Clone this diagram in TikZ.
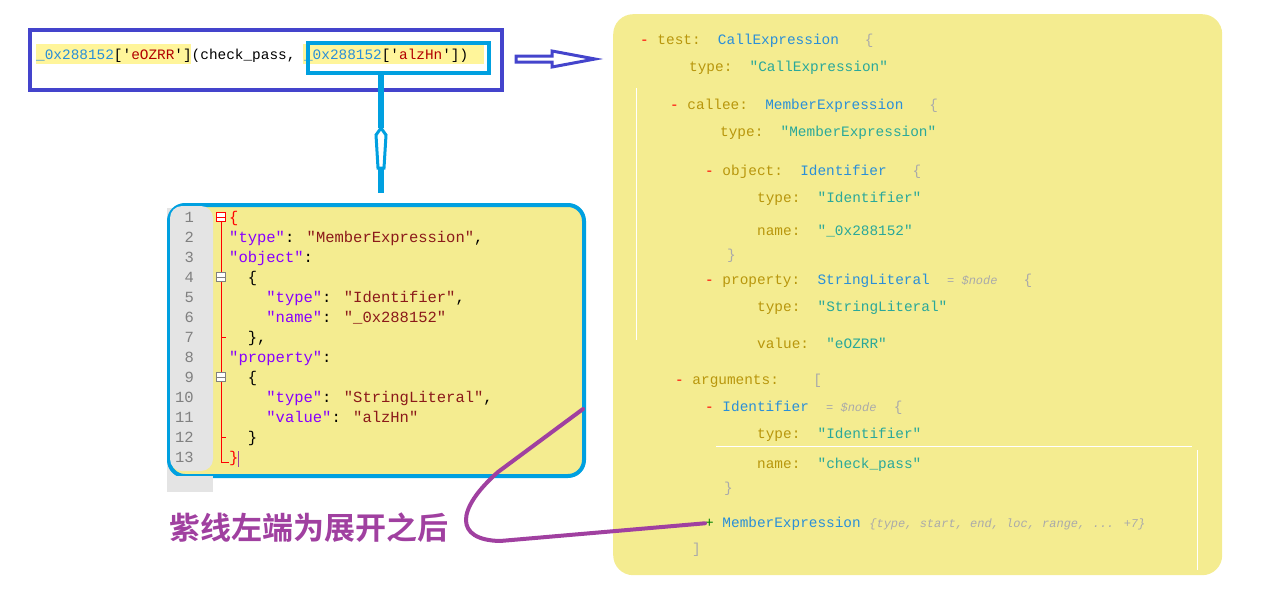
\documentclass[tikz,border=0pt]{standalone}
\usepackage{fontspec}
\newfontfamily\mono{Liberation Mono}
\newfontfamily\cjk{Noto Sans CJK SC}[BoldFont={Noto Sans CJK SC Bold}]
\definecolor{dblue}{HTML}{4444CC}
\definecolor{cyanb}{HTML}{00A0E0}
\definecolor{pyel}{HTML}{F4EC90}
\definecolor{hyel}{HTML}{FFF59A}
\definecolor{keyc}{HTML}{B8960C}
\definecolor{valc}{HTML}{2A8FD8}
\definecolor{strc}{HTML}{2AA89A}
\definecolor{brc}{HTML}{AAAAAA}
\definecolor{purp}{HTML}{A040A0}
\definecolor{jkey}{HTML}{8800FF}
\definecolor{jstr}{HTML}{8B1A1A}
\definecolor{gut}{HTML}{E4E4E4}
\tikzset{
 tx/.style={anchor=base west,inner sep=0pt,font=\mono\fontsize{14.4}{16}\selectfont},
 jx/.style={anchor=base west,inner sep=0pt,font=\mono\fontsize{15.5}{17}\selectfont},
 ln/.style={anchor=base east,inner sep=0pt,font=\mono\fontsize{15.5}{17}\selectfont,text=gray},
 fold/.style={draw=#1,fill=white,minimum size=9pt,inner sep=0pt},
}
\newcommand{\K}[1]{\textcolor{keyc}{#1}}
\newcommand{\V}[1]{\textcolor{valc}{#1}}
\newcommand{\Sv}[1]{\textcolor{strc}{#1}}
\newcommand{\B}[1]{\textcolor{brc}{#1}}
\newcommand{\D}{\textcolor{red}{-}}
\newcommand{\N}[1]{\textcolor{brc}{\itshape\fontsize{12}{14}\selectfont #1}}
\newcommand{\JK}[1]{\textcolor{jkey}{"#1"}}
\newcommand{\JS}[1]{\textcolor{jstr}{"#1"}}
\begin{document}
\begin{tikzpicture}[x=1pt,y=-1pt]
\useasboundingbox (0,0) rectangle (1276,608);
% ---------- right panel
\node[fill=pyel,rounded corners=20pt,minimum width=609pt,minimum height=561pt,anchor=north west,inner sep=0pt] (panel) at (613,14) {};
\draw[white,line width=1pt] (636,88) -- (636,340);
\draw[white,line width=1pt] (716,446) -- (1192,446);
\draw[white,line width=1pt] (1197,450) -- (1197,570);
\node[tx] (t1) at (640,44) {\D\ \K{test:}\ \ \V{CallExpression}\ \ \ \B{\{}};
\node[tx] (t2) at (689,71) {\K{type:}\ \ \Sv{"CallExpression"}};
\node[tx] (t3) at (670,109) {\D\ \K{callee:}\ \ \V{MemberExpression}\ \ \ \B{\{}};
\node[tx] (t4) at (720,136) {\K{type:}\ \ \Sv{"MemberExpression"}};
\node[tx] (t5) at (705,175) {\D\ \K{object:}\ \ \V{Identifier}\ \ \ \B{\{}};
\node[tx] (t6) at (757,202) {\K{type:}\ \ \Sv{"Identifier"}};
\node[tx] (t7) at (757,235) {\K{name:}\ \ \Sv{"\_0x288152"}};
\node[tx] (t8) at (727,259) {\B{\}}};
\node[tx] (t9) at (705,284) {\D\ \K{property:}\ \ \V{StringLiteral}\ \ \N{= \$node}\ \ \ \B{\{}};
\node[tx] (t10) at (757,311) {\K{type:}\ \ \Sv{"StringLiteral"}};
\node[tx] (t11) at (757,348) {\K{value:}\ \ \Sv{"eOZRR"}};
\node[tx] (t12) at (675,384) {\D\ \K{arguments:}\ \ \ \ \B{[}};
\node[tx] (t13) at (705,411) {\D\ \V{Identifier}\ \ \N{= \$node}\ \ \B{\{}};
\node[tx] (t14) at (757,438) {\K{type:}\ \ \Sv{"Identifier"}};
\node[tx] (t15) at (757,468) {\K{name:}\ \ \Sv{"check\_pass"}};
\node[tx] (t16) at (724,492) {\B{\}}};
\node[tx] (t17) at (705,527) {\textcolor{green!50!black}{+}\ \V{MemberExpression}\ \N{\{type, start, end, loc, range, ... +7\}}};
\node[tx] (t18) at (692,553) {\B{]}};
% ---------- top code line
\fill[hyel] (36,44) rectangle (191,64);
\fill[hyel] (303,44) rectangle (484,64);
\node[tx] (code) at (36,59) {\V{\_0x288152}['\textcolor{red!70!black}{eOZRR}'](check\_pass, \V{\_0x288152}['\textcolor{red!70!black}{alzHn}'])};
\node[draw=dblue,line width=4pt,minimum width=472pt,minimum height=60pt,anchor=north west,inner sep=0pt] (outer) at (28,28) {};
\node[draw=cyanb,line width=4pt,minimum width=181pt,minimum height=30pt,anchor=north west,inner sep=0pt] (inner) at (306,41) {};
% right hollow arrow
\draw[dblue,line width=3pt,line join=miter] (516,56) -- (552,56) -- (552,51) -- (595,59) -- (552,67) -- (552,62) -- (516,62) -- cycle;
% down connector
\coordinate (dtop) at (381,71);
\coordinate (dbot) at (381,193);
\draw[cyanb,line width=6pt] (inner.south -| dtop) -- (381,128);
\draw[cyanb,line width=6pt] (381,168) -- (dbot);
\draw[cyanb,line width=3pt,fill=white] (378,168) -- (376,135) -- (381,128) -- (386,135) -- (384,168) -- cycle;
% ---------- JSON box
\fill[gut] (167,208) rectangle (213,492);
\node[draw=cyanb,line width=4pt,fill=pyel,rounded corners=16pt,minimum width=415pt,minimum height=271pt,anchor=north west,inner sep=0pt] (json) at (167,203) {};
\fill[gut,rounded corners=12pt] (170,206) -- (213,206) -- (213,471) -- (170,471) -- cycle;
\fill[gut] (170,476) rectangle (213,492);
\foreach \i in {1,...,13}{
  \node[ln] (n\i) at (194,{222+20*(\i-1)}) {\i};
}
\draw[red] (221,217) -- (221,462) -- (229,462);
\foreach \i in {7,12}{\draw[red] (221,{217+20*(\i-1)}) -- (226,{217+20*(\i-1)});}
\node[fold=red] (f1) at (221,217) {};
\node[fold=gray] (f4) at (221,277) {};
\node[fold=gray] (f9) at (221,377) {};
\draw[red] (f1.west) -- (f1.east);
\draw[gray] (f4.west) -- (f4.east);
\draw[gray] (f9.west) -- (f9.east);
\node[jx] (j1) at (229,222) {\textcolor{red}{\{}};
\node[jx] (j2) at (229,242) {\JK{type}: \JS{MemberExpression},};
\node[jx] (j3) at (229,262) {\JK{object}:};
\node[jx] (j4) at (229,282) {\ \ \{};
\node[jx] (j5) at (229,302) {\ \ \ \ \JK{type}: \JS{Identifier},};
\node[jx] (j6) at (229,322) {\ \ \ \ \JK{name}: \JS{\_0x288152}};
\node[jx] (j7) at (229,342) {\ \ \},};
\node[jx] (j8) at (229,362) {\JK{property}:};
\node[jx] (j9) at (229,382) {\ \ \{};
\node[jx] (j10) at (229,402) {\ \ \ \ \JK{type}: \JS{StringLiteral},};
\node[jx] (j11) at (229,422) {\ \ \ \ \JK{value}: \JS{alzHn}};
\node[jx] (j12) at (229,442) {\ \ \}};
\node[jx] (j13) at (229,462) {\textcolor{red}{\}}};
\draw[purp] (238,451) -- (238,467);
% ---------- Chinese label and purple curve
\node[anchor=west,inner sep=0pt,font=\cjk\bfseries\fontsize{31}{33}\selectfont,text=purp] (lbl) at (169,528) {紫线左端为展开之后};
\coordinate (pstart) at (583,409);
\coordinate (pend) at (t17.west);
\draw[purp,line width=4pt,line cap=round] (pstart) -- (498,472) .. controls (455,510) and (455,540) .. (500,541) -- (pend);
\end{tikzpicture}
\end{document}
